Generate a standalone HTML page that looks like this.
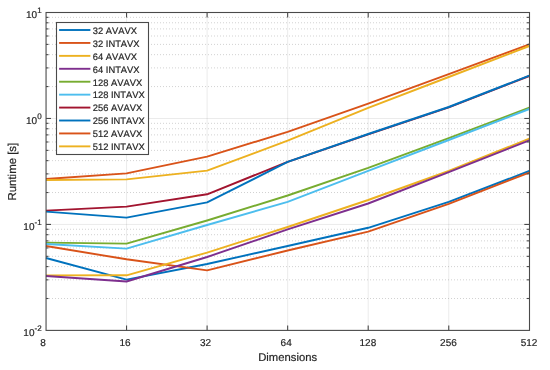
<!DOCTYPE html>
<html><head><meta charset="utf-8"><title>Runtime vs Dimensions</title>
<style>
html,body{margin:0;padding:0;background:#fff;}
body{width:550px;height:370px;overflow:hidden;}
svg{display:block;}
svg text{font-family:"Liberation Sans",sans-serif;fill:#262626;stroke:#262626;stroke-width:0.2px;font-kerning:none;text-rendering:geometricPrecision;}
.tick{font-size:10px;}
.sup{font-size:8px;}
.lab{font-size:11.25px;}
.ylab{font-size:11.45px;}
.leg{font-size:9.35px;}
</style></head><body>
<svg width="550" height="370" viewBox="0 0 550 370">
<rect x="0" y="0" width="550" height="370" fill="#ffffff"/>

<g stroke="#262626" stroke-opacity="0.3" stroke-width="0.7" stroke-dasharray="1 2" fill="none">
<line x1="46.0" y1="86.57" x2="529.3" y2="86.57"/>
<line x1="46.0" y1="67.91" x2="529.3" y2="67.91"/>
<line x1="46.0" y1="54.67" x2="529.3" y2="54.67"/>
<line x1="46.0" y1="44.40" x2="529.3" y2="44.40"/>
<line x1="46.0" y1="36.01" x2="529.3" y2="36.01"/>
<line x1="46.0" y1="28.91" x2="529.3" y2="28.91"/>
<line x1="46.0" y1="22.77" x2="529.3" y2="22.77"/>
<line x1="46.0" y1="17.35" x2="529.3" y2="17.35"/>
<line x1="46.0" y1="192.53" x2="529.3" y2="192.53"/>
<line x1="46.0" y1="173.87" x2="529.3" y2="173.87"/>
<line x1="46.0" y1="160.64" x2="529.3" y2="160.64"/>
<line x1="46.0" y1="150.37" x2="529.3" y2="150.37"/>
<line x1="46.0" y1="141.98" x2="529.3" y2="141.98"/>
<line x1="46.0" y1="134.88" x2="529.3" y2="134.88"/>
<line x1="46.0" y1="128.74" x2="529.3" y2="128.74"/>
<line x1="46.0" y1="123.32" x2="529.3" y2="123.32"/>
<line x1="46.0" y1="298.50" x2="529.3" y2="298.50"/>
<line x1="46.0" y1="279.84" x2="529.3" y2="279.84"/>
<line x1="46.0" y1="266.60" x2="529.3" y2="266.60"/>
<line x1="46.0" y1="256.33" x2="529.3" y2="256.33"/>
<line x1="46.0" y1="247.94" x2="529.3" y2="247.94"/>
<line x1="46.0" y1="240.85" x2="529.3" y2="240.85"/>
<line x1="46.0" y1="234.70" x2="529.3" y2="234.70"/>
<line x1="46.0" y1="229.28" x2="529.3" y2="229.28"/>
</g>
<g stroke="#262626" stroke-opacity="0.12" stroke-width="0.8" fill="none">
<line x1="126.55" y1="12.5" x2="126.55" y2="330.4"/>
<line x1="207.10" y1="12.5" x2="207.10" y2="330.4"/>
<line x1="287.65" y1="12.5" x2="287.65" y2="330.4"/>
<line x1="368.20" y1="12.5" x2="368.20" y2="330.4"/>
<line x1="448.75" y1="12.5" x2="448.75" y2="330.4"/>
<line x1="46.0" y1="118.47" x2="529.3" y2="118.47"/>
<line x1="46.0" y1="224.43" x2="529.3" y2="224.43"/>
</g>
<g fill="none" stroke-width="1.9" stroke-linejoin="round" stroke-linecap="butt">
<polyline stroke="#0072BD" points="46.00,258.00 126.55,279.60 207.10,264.00 287.65,246.00 368.20,227.80 448.75,201.80 529.30,171.00"/>
<polyline stroke="#D95319" points="46.00,246.00 126.55,259.30 207.10,270.40 287.65,250.50 368.20,231.60 448.75,203.80 529.30,172.60"/>
<polyline stroke="#EDB120" points="46.00,275.40 126.55,275.30 207.10,252.60 287.65,227.00 368.20,200.00 448.75,171.00 529.30,138.60"/>
<polyline stroke="#7E2F8E" points="46.00,276.00 126.55,281.50 207.10,257.00 287.65,229.40 368.20,203.50 448.75,172.20 529.30,140.40"/>
<polyline stroke="#77AC30" points="46.00,242.60 126.55,243.60 207.10,220.50 287.65,195.50 368.20,167.90 448.75,138.20 529.30,107.60"/>
<polyline stroke="#4DBEEE" points="46.00,244.00 126.55,248.60 207.10,225.00 287.65,201.90 368.20,170.90 448.75,140.00 529.30,109.00"/>
<polyline stroke="#A2142F" points="46.00,210.60 126.55,206.60 207.10,194.30 287.65,161.90 368.20,134.40 448.75,107.40 529.30,76.00"/>
<polyline stroke="#0072BD" points="46.00,211.60 126.55,217.60 207.10,202.40 287.65,161.90 368.20,134.00 448.75,107.00 529.30,75.60"/>
<polyline stroke="#D95319" points="46.00,179.00 126.55,173.40 207.10,156.60 287.65,131.80 368.20,103.60 448.75,74.20 529.30,44.40"/>
<polyline stroke="#EDB120" points="46.00,180.00 126.55,179.40 207.10,170.60 287.65,140.70 368.20,107.80 448.75,77.00 529.30,46.00"/>
</g>
<g stroke="#4a4a4a" stroke-width="1.1" fill="none">
<rect x="46.05" y="12.5" width="483.45" height="317.9"/>
<line x1="126.55" y1="330.4" x2="126.55" y2="325.4"/>
<line x1="126.55" y1="12.5" x2="126.55" y2="17.5"/>
<line x1="207.10" y1="330.4" x2="207.10" y2="325.4"/>
<line x1="207.10" y1="12.5" x2="207.10" y2="17.5"/>
<line x1="287.65" y1="330.4" x2="287.65" y2="325.4"/>
<line x1="287.65" y1="12.5" x2="287.65" y2="17.5"/>
<line x1="368.20" y1="330.4" x2="368.20" y2="325.4"/>
<line x1="368.20" y1="12.5" x2="368.20" y2="17.5"/>
<line x1="448.75" y1="330.4" x2="448.75" y2="325.4"/>
<line x1="448.75" y1="12.5" x2="448.75" y2="17.5"/>
<line x1="46.0" y1="86.57" x2="48.5" y2="86.57"/>
<line x1="529.3" y1="86.57" x2="526.8" y2="86.57"/>
<line x1="46.0" y1="67.91" x2="48.5" y2="67.91"/>
<line x1="529.3" y1="67.91" x2="526.8" y2="67.91"/>
<line x1="46.0" y1="54.67" x2="48.5" y2="54.67"/>
<line x1="529.3" y1="54.67" x2="526.8" y2="54.67"/>
<line x1="46.0" y1="44.40" x2="48.5" y2="44.40"/>
<line x1="529.3" y1="44.40" x2="526.8" y2="44.40"/>
<line x1="46.0" y1="36.01" x2="48.5" y2="36.01"/>
<line x1="529.3" y1="36.01" x2="526.8" y2="36.01"/>
<line x1="46.0" y1="28.91" x2="48.5" y2="28.91"/>
<line x1="529.3" y1="28.91" x2="526.8" y2="28.91"/>
<line x1="46.0" y1="22.77" x2="48.5" y2="22.77"/>
<line x1="529.3" y1="22.77" x2="526.8" y2="22.77"/>
<line x1="46.0" y1="17.35" x2="48.5" y2="17.35"/>
<line x1="529.3" y1="17.35" x2="526.8" y2="17.35"/>
<line x1="46.0" y1="118.47" x2="51.0" y2="118.47"/>
<line x1="529.3" y1="118.47" x2="524.3" y2="118.47"/>
<line x1="46.0" y1="192.53" x2="48.5" y2="192.53"/>
<line x1="529.3" y1="192.53" x2="526.8" y2="192.53"/>
<line x1="46.0" y1="173.87" x2="48.5" y2="173.87"/>
<line x1="529.3" y1="173.87" x2="526.8" y2="173.87"/>
<line x1="46.0" y1="160.64" x2="48.5" y2="160.64"/>
<line x1="529.3" y1="160.64" x2="526.8" y2="160.64"/>
<line x1="46.0" y1="150.37" x2="48.5" y2="150.37"/>
<line x1="529.3" y1="150.37" x2="526.8" y2="150.37"/>
<line x1="46.0" y1="141.98" x2="48.5" y2="141.98"/>
<line x1="529.3" y1="141.98" x2="526.8" y2="141.98"/>
<line x1="46.0" y1="134.88" x2="48.5" y2="134.88"/>
<line x1="529.3" y1="134.88" x2="526.8" y2="134.88"/>
<line x1="46.0" y1="128.74" x2="48.5" y2="128.74"/>
<line x1="529.3" y1="128.74" x2="526.8" y2="128.74"/>
<line x1="46.0" y1="123.32" x2="48.5" y2="123.32"/>
<line x1="529.3" y1="123.32" x2="526.8" y2="123.32"/>
<line x1="46.0" y1="224.43" x2="51.0" y2="224.43"/>
<line x1="529.3" y1="224.43" x2="524.3" y2="224.43"/>
<line x1="46.0" y1="298.50" x2="48.5" y2="298.50"/>
<line x1="529.3" y1="298.50" x2="526.8" y2="298.50"/>
<line x1="46.0" y1="279.84" x2="48.5" y2="279.84"/>
<line x1="529.3" y1="279.84" x2="526.8" y2="279.84"/>
<line x1="46.0" y1="266.60" x2="48.5" y2="266.60"/>
<line x1="529.3" y1="266.60" x2="526.8" y2="266.60"/>
<line x1="46.0" y1="256.33" x2="48.5" y2="256.33"/>
<line x1="529.3" y1="256.33" x2="526.8" y2="256.33"/>
<line x1="46.0" y1="247.94" x2="48.5" y2="247.94"/>
<line x1="529.3" y1="247.94" x2="526.8" y2="247.94"/>
<line x1="46.0" y1="240.85" x2="48.5" y2="240.85"/>
<line x1="529.3" y1="240.85" x2="526.8" y2="240.85"/>
<line x1="46.0" y1="234.70" x2="48.5" y2="234.70"/>
<line x1="529.3" y1="234.70" x2="526.8" y2="234.70"/>
<line x1="46.0" y1="229.28" x2="48.5" y2="229.28"/>
<line x1="529.3" y1="229.28" x2="526.8" y2="229.28"/>
</g>
<text class="tick" x="43.10" y="345.8" text-anchor="middle">8</text>
<text class="tick" x="125.05" y="345.8" text-anchor="middle">16</text>
<text class="tick" x="205.60" y="345.8" text-anchor="middle">32</text>
<text class="tick" x="286.15" y="345.8" text-anchor="middle">64</text>
<text class="tick" x="367.90" y="345.8" text-anchor="middle">128</text>
<text class="tick" x="448.45" y="345.8" text-anchor="middle">256</text>
<text class="tick" x="529.00" y="345.8" text-anchor="middle">512</text>
<text class="tick" x="37.15" y="18.00" text-anchor="end">10</text>
<text class="sup" x="37.15" y="13.20" text-anchor="start">1</text>
<text class="tick" x="37.15" y="123.97" text-anchor="end">10</text>
<text class="sup" x="37.15" y="119.17" text-anchor="start">0</text>
<text class="tick" x="34.49" y="229.93" text-anchor="end">10</text>
<text class="sup" x="34.49" y="225.13" text-anchor="start">-1</text>
<text class="tick" x="34.49" y="335.90" text-anchor="end">10</text>
<text class="sup" x="34.49" y="331.10" text-anchor="start">-2</text>
<text class="lab" x="287.65" y="360.7" text-anchor="middle">Dimensions</text>
<text class="ylab" transform="translate(16.3,171.65) rotate(-90)" text-anchor="middle">Runtime [s]</text>
<rect x="56.5" y="22.5" width="92" height="132" fill="#fff" stroke="#4a4a4a" stroke-width="1.1"/>
<line x1="59.1" y1="30.00" x2="90.4" y2="30.00" stroke="#0072BD" stroke-width="1.9"/>
<text class="leg" x="92.8" y="33.95">32 AVAVX</text>
<line x1="59.1" y1="42.93" x2="90.4" y2="42.93" stroke="#D95319" stroke-width="1.9"/>
<text class="leg" x="92.8" y="46.85">32 INTAVX</text>
<line x1="59.1" y1="55.86" x2="90.4" y2="55.86" stroke="#EDB120" stroke-width="1.9"/>
<text class="leg" x="92.8" y="59.75">64 AVAVX</text>
<line x1="59.1" y1="68.79" x2="90.4" y2="68.79" stroke="#7E2F8E" stroke-width="1.9"/>
<text class="leg" x="92.8" y="72.65">64 INTAVX</text>
<line x1="59.1" y1="81.72" x2="90.4" y2="81.72" stroke="#77AC30" stroke-width="1.9"/>
<text class="leg" x="92.8" y="85.55">128 AVAVX</text>
<line x1="59.1" y1="94.65" x2="90.4" y2="94.65" stroke="#4DBEEE" stroke-width="1.9"/>
<text class="leg" x="92.8" y="98.45">128 INTAVX</text>
<line x1="59.1" y1="107.58" x2="90.4" y2="107.58" stroke="#A2142F" stroke-width="1.9"/>
<text class="leg" x="92.8" y="111.35">256 AVAVX</text>
<line x1="59.1" y1="120.51" x2="90.4" y2="120.51" stroke="#0072BD" stroke-width="1.9"/>
<text class="leg" x="92.8" y="124.25">256 INTAVX</text>
<line x1="59.1" y1="133.44" x2="90.4" y2="133.44" stroke="#D95319" stroke-width="1.9"/>
<text class="leg" x="92.8" y="137.15">512 AVAVX</text>
<line x1="59.1" y1="146.37" x2="90.4" y2="146.37" stroke="#EDB120" stroke-width="1.9"/>
<text class="leg" x="92.8" y="150.05">512 INTAVX</text>
</svg>
</body></html>
